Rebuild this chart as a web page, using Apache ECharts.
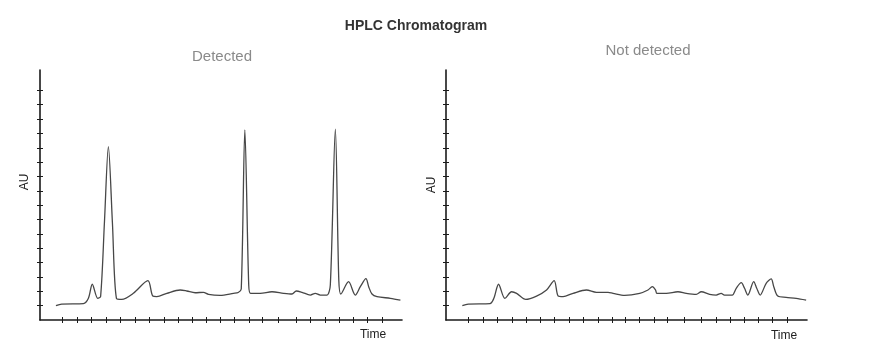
<!DOCTYPE html>
<html>
<head>
<meta charset="utf-8">
<script src="https://cdn.jsdelivr.net/npm/echarts@6/dist/echarts.min.js"></script>
<style>
  html, body { margin: 0; padding: 0; background: #fff; }
  #main { width: 887px; height: 360px; }
</style>
</head>
<body>
<div id="main"></div>
<script>
// time axis positions of the sample points (arbitrary units)
const detectedTime = [1.11, 1.51, 3.02, 3.37, 3.64, 4.02, 4.22, 4.49, 4.76, 5.04, 5.32, 5.69, 6.50, 7.51, 7.85,
  8.13, 8.83, 9.76, 10.22, 10.80, 11.38, 11.73, 12.54, 13.47, 13.80, 14.01, 14.26, 14.53, 14.66, 15.33,
  16.15, 16.95, 17.54, 17.84, 18.24, 18.82, 19.16, 19.51, 19.98, 20.21, 20.56, 20.80, 20.94, 21.48, 21.95,
  22.30, 22.69, 22.88, 23.11, 23.46, 24.39, 25.09]
const detectedAU = [1.00, 1.11, 1.14, 1.51, 2.49, 1.51, 1.64, 6.90, 12.08, 6.80, 1.51, 1.44, 1.86, 2.74, 1.67,
  1.63, 1.86, 2.09, 2.02, 1.90, 1.93, 1.79, 1.72, 1.86, 1.92, 2.16, 13.24, 2.44, 1.86, 1.86,
  1.97, 1.86, 1.81, 2.02, 1.93, 1.74, 1.86, 1.74, 1.74, 2.44, 13.29, 2.79, 1.81, 2.67, 1.74,
  2.32, 2.88, 2.32, 1.81, 1.63, 1.51, 1.39]

const notDetectedTime = [1.14, 1.55, 3.07, 3.34, 3.67, 4.11, 4.58, 4.93, 5.57, 6.32, 7.02, 7.55, 7.83, 8.17,
  8.87, 9.80, 10.50, 11.31, 11.66, 12.47, 13.52, 14.10, 14.40, 14.63, 14.72, 15.38, 16.19, 16.77, 17.47,
  17.82, 18.40, 18.86, 19.21, 19.44, 19.98, 20.26, 20.61, 20.84, 21.07, 21.48, 21.69, 21.93, 22.35, 22.70,
  22.88, 23.16, 23.74, 24.44, 25.14]
const notDetectedAU = [1.00, 1.11, 1.14, 1.51, 2.49, 1.51, 1.97, 1.86, 1.44, 1.67, 2.09, 2.74, 1.67, 1.63,
  1.86, 2.09, 1.93, 1.93, 1.86, 1.72, 1.86, 2.09, 2.32, 2.09, 1.86, 1.86, 1.97, 1.86, 1.79,
  1.97, 1.79, 1.74, 1.86, 1.74, 1.74, 2.21, 2.60, 2.21, 1.74, 2.67, 2.21, 1.74, 2.56, 2.86,
  2.32, 1.67, 1.58, 1.51, 1.39]

// tick marks (no labels on either axis)
const timeTicks = [1.58, 2.58, 3.60, 4.59, 5.57, 6.60, 7.58, 8.62, 9.60, 10.61, 11.58, 12.54, 13.50, 14.55,
  15.47, 16.60, 17.85, 18.84, 19.84, 20.81, 21.81, 22.79, 23.85]
const auTicks = [1, 2, 3, 4, 5, 6, 7, 8, 9, 10, 11, 12, 13, 14, 15, 16]

const panelTitles = ['Detected', 'Not detected']

const pairs = (xs, ys) => xs.map((x, i) => [x, ys[i]])

const chartDom = document.getElementById('main')
const myChart = echarts.init(chartDom, null, { width: 887, height: 360 })

const xMax = 25.2
const yMax = 17.42

// each axis is drawn twice (outer + inner ticks) so the ticks cross the line
const makeX = (gridIndex, inside) => ({
    gridIndex,
    type: 'value',
    position: 'bottom',
    min: 0,
    max: xMax,
    axisLine: { show: !inside, onZero: false, lineStyle: { color: '#1a1a1a', width: 1.6 } },
    axisTick: { show: true, inside, length: 3, customValues: timeTicks, lineStyle: { color: '#1a1a1a', width: 1 } },
    axisLabel: { show: false },
    splitLine: { show: false }
})
const makeY = (gridIndex, inside) => ({
    gridIndex,
    type: 'value',
    position: 'left',
    min: 0,
    max: yMax,
    axisLine: { show: !inside, onZero: false, lineStyle: { color: '#1a1a1a', width: 1.6 } },
    axisTick: { show: true, inside, length: 3, customValues: auTicks, lineStyle: { color: '#1a1a1a', width: 1 } },
    axisLabel: { show: false },
    splitLine: { show: false }
})

const lineSeries = (axisIndex, data) => ({
    type: 'line',
    xAxisIndex: axisIndex,
    yAxisIndex: axisIndex,
    data,
    showSymbol: false,
    symbol: 'none',
    smooth: 0.3,
    lineStyle: { color: '#474747', width: 1.3 },
    animation: false
})

const label = (text, x, y, opts) => ({
    type: 'text',
    x,
    y,
    style: Object.assign({
        text,
        fill: '#222',
        font: '12px "Liberation Sans", Arial, sans-serif',
        align: 'center',
        verticalAlign: 'middle'
    }, opts || {})
})

const option = {
    backgroundColor: '#fff',
    animation: false,
    title: [
        {
            text: 'HPLC Chromatogram',
            left: 411,
            top: 14,
            textAlign: 'center',
            textStyle: { fontFamily: 'Liberation Sans', fontSize: 14, fontWeight: 'bold', color: '#333' }
        }
    ],
    grid: [
        { left: 40, top: 70, width: 362, height: 250 },
        { left: 446, top: 70, width: 361, height: 250 }
    ],
    xAxis: [makeX(0, false), makeX(0, true), makeX(1, false), makeX(1, true)],
    yAxis: [makeY(0, false), makeY(0, true), makeY(1, false), makeY(1, true)],
    graphic: [
        label(panelTitles[0], 222, 57, { fill: '#8a8a8a', font: '15px "Liberation Sans", Arial, sans-serif' }),
        label(panelTitles[1], 648, 51, { fill: '#8a8a8a', font: '15px "Liberation Sans", Arial, sans-serif' }),
        Object.assign(label('AU', 25, 182), { rotation: Math.PI / 2 }),
        Object.assign(label('AU', 432, 185), { rotation: Math.PI / 2 }),
        label('Time', 373, 335),
        label('Time', 784, 336)
    ],
    series: [
        lineSeries(0, pairs(detectedTime, detectedAU)),
        lineSeries(2, pairs(notDetectedTime, notDetectedAU))
    ]
}

option && myChart.setOption(option)
</script>
</body>
</html>
